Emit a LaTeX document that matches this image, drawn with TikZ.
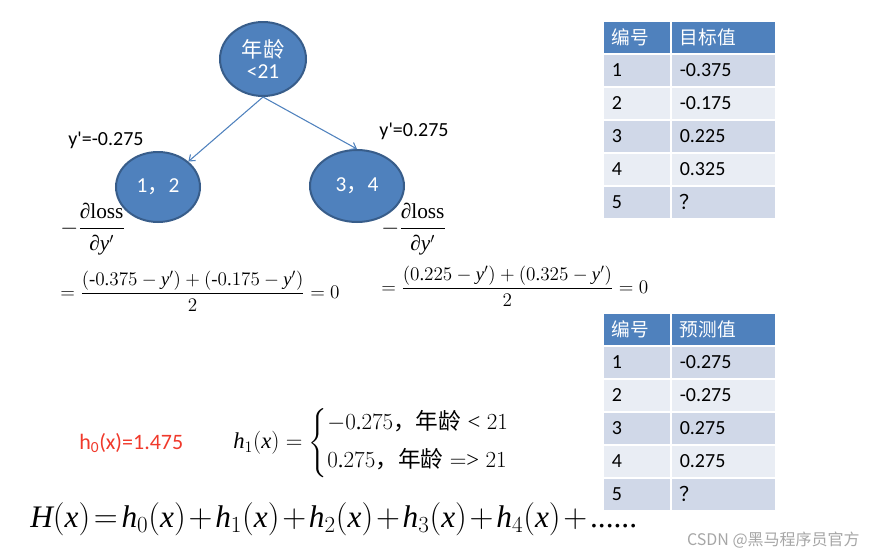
\documentclass[tikz,border=0pt]{standalone}
\usepackage{amsmath}
\usepackage{fontspec}
\setmainfont[NFSSFamily=tmfam]{Liberation Serif}
\newfontfamily\calibri{Carlito}
\newfontfamily\cjk{Noto Sans CJK SC}
\usetikzlibrary{shapes.geometric,arrows.meta}

% Times-like letters and digits in math
\DeclareSymbolFont{tmit}{TU}{tmfam}{m}{it}
\DeclareSymbolFont{tmrm}{TU}{tmfam}{m}{n}
\newcommand{\tmletter}[1]{\DeclareMathSymbol{#1}{\mathalpha}{tmit}{`#1}}
\newcommand{\tmdigit}[1]{\DeclareMathSymbol{#1}{\mathalpha}{tmrm}{`#1}}
\tmletter{h}\tmletter{H}\tmletter{x}\tmletter{y}
\tmdigit{0}\tmdigit{1}\tmdigit{2}\tmdigit{3}\tmdigit{4}\tmdigit{5}\tmdigit{6}\tmdigit{7}\tmdigit{8}\tmdigit{9}
\DeclareMathSymbol{.}{\mathord}{tmrm}{`.}
\DeclareMathSymbol{(}{\mathopen}{tmrm}{`(}
\DeclareMathSymbol{)}{\mathclose}{tmrm}{`)}
\DeclareMathSymbol{=}{\mathrel}{tmrm}{`=}
\DeclareMathSymbol{+}{\mathbin}{tmrm}{`+}
\DeclareMathSymbol{<}{\mathrel}{tmrm}{`<}
\DeclareMathSymbol{>}{\mathrel}{tmrm}{`>}

\definecolor{treefill}{HTML}{4F81BD}
\definecolor{treeline}{HTML}{385D8A}
\definecolor{rowdark}{HTML}{D0D8E8}
\definecolor{rowlight}{HTML}{E9EDF4}
\definecolor{hred}{HTML}{F0392B}

\newcommand{\fs}[1]{\fontsize{#1}{#1}\selectfont}

\begin{document}
\begin{tikzpicture}[x=0.75pt, y=-0.75pt,
    treenode/.style={ellipse, draw=treeline, line width=1.5pt, fill=treefill, text=white, inner sep=0pt, align=center, font=\fs{16}\calibri},
    treeedge/.style={draw=treefill, line width=0.8pt, -{Straight Barb[length=4pt, width=6pt]}},
    lbl/.style={font=\fs{15}\calibri, inner sep=0pt},
    eq/.style={anchor=west, inner sep=0pt, font=\fs{14}},
    cell/.style={rectangle, draw=white, line width=1.2pt, anchor=north west, minimum height=33*0.75pt, inner xsep=9*0.75pt, inner ysep=0pt, align=left, font=\fs{15}\calibri},
    headcell/.style={cell, fill=treefill, text=white, font=\fs{14}\cjk},
    darkcell/.style={cell, fill=rowdark},
    lightcell/.style={cell, fill=rowlight},
    nocol/.style={text width=50*0.75pt},
    valcol/.style={text width=87*0.75pt}]
\useasboundingbox (0,0) rectangle (875,557);

% tree
\node[treenode, minimum width=86*0.75pt, minimum height=74*0.75pt] (root) at (263,59) {{\cjk 年龄}\\<21};
\node[treenode, minimum width=84*0.75pt, minimum height=70*0.75pt] (left) at (158,187) {1{\cjk ，}2};
\node[treenode, minimum width=94*0.75pt, minimum height=72*0.75pt] (right) at (357,186) {3{\cjk ，}4};
\draw[treeedge] (root.south) -- (left.40);
\draw[treeedge] (root.south) -- (right.north);
\node[lbl] (yleft) at (106,140) {y'=-0.275};
\node[lbl] (yright) at (414,131) {y'=0.275};

% gradients of the two leaves
\node[eq, font=\fs{16}] (gradL) at (60,229) {$-\dfrac{\text{∂loss}}{\text{∂}y'}$};
\node[eq] (sumL) at (60,291) {$=\dfrac{(\text{-}0.375-y')+(\text{-}0.175-y')}{2}=0$};
\node[eq, font=\fs{16}] (gradR) at (381,229) {$-\dfrac{\text{∂loss}}{\text{∂}y'}$};
\node[eq] (sumR) at (381,286) {$=\dfrac{(0.225-y')+(0.325-y')}{2}=0$};

% tables
\foreach \cid/\cval/\sty [count=\rw from 0] in {编号/目标值/headcell, 1/-0.375/darkcell, 2/-0.175/lightcell, 3/0.225/darkcell, 4/0.325/lightcell, 5/{\cjk ？}/darkcell} {
  \node[\sty, nocol] (ta-\rw-1) at (602,{20+33*\rw}) {\cid};
  \node[\sty, valcol] (ta-\rw-2) at (670,{20+33*\rw}) {\cval};
}
\foreach \cid/\cval/\sty [count=\rw from 0] in {编号/预测值/headcell, 1/-0.275/darkcell, 2/-0.275/lightcell, 3/0.275/darkcell, 4/0.275/lightcell, 5/{\cjk ？}/darkcell} {
  \node[\sty, nocol] (tb-\rw-1) at (602,{312+33*\rw}) {\cid};
  \node[\sty, valcol] (tb-\rw-2) at (670,{312+33*\rw}) {\cval};
}

% first trees
\node[lbl, anchor=west, text=hred, font=\fs{16.5}\calibri] (hnull) at (79,443) {h\textsubscript{0}(x)=1.475};
\node[anchor=west, inner sep=0pt, font=\fs{17}] (hone) at (233,443)
  {$h_1(x)=\begin{cases}-0.275\text{\cjk ，年龄}<21\\[8pt]0.275\text{\cjk ，年龄}=>21\end{cases}$};
\node[anchor=west, inner sep=0pt, font=\fs{23.5}] (hsum) at (30,519)
  {$\thickmuskip=2mu \medmuskip=1.5mu H(x)=h_0(x)+h_1(x)+h_2(x)+h_3(x)+h_4(x)+\text{......}$};

\node[anchor=east, inner sep=0pt, text=gray!70, font=\fs{12}\cjk] (mark) at (860,540) {CSDN @黑马程序员官方};
\end{tikzpicture}
\end{document}
